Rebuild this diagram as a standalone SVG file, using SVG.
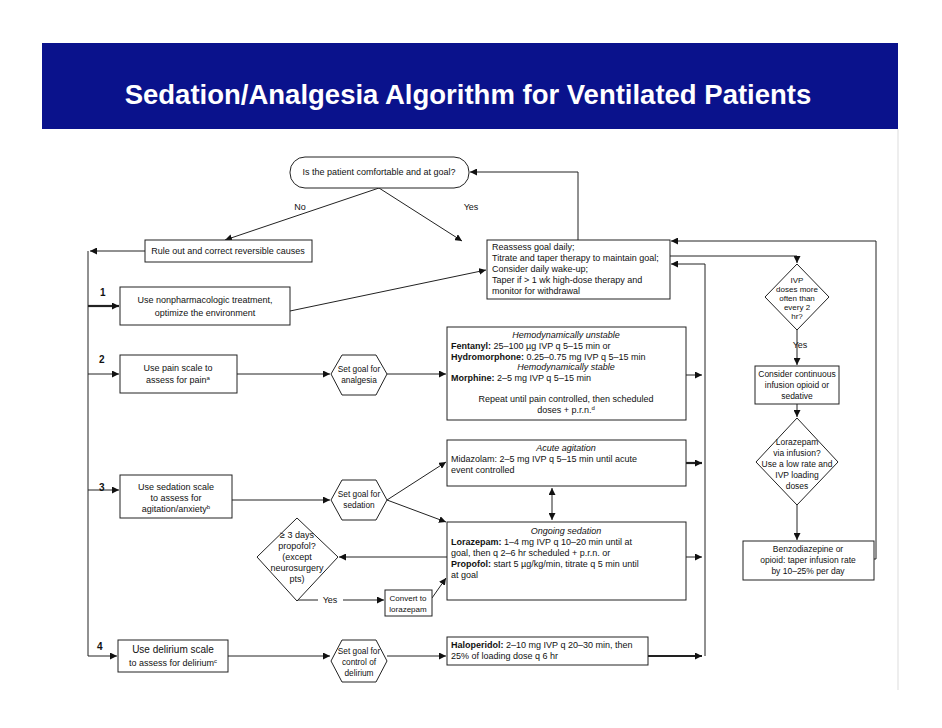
<svg xmlns="http://www.w3.org/2000/svg" width="942" height="728" viewBox="0 0 942 728">
<style>
text{font-family:"Liberation Sans",Arial,sans-serif;font-size:9px;fill:#111}
.c{text-anchor:middle}
.b{font-weight:bold}
.i{font-style:italic}
.n{fill:#fff;stroke:#222;stroke-width:1}
.l{fill:none;stroke:#222;stroke-width:1}
.t{fill:none;stroke:#222;stroke-width:2.2}
.num{font-weight:bold;font-size:10px}
.h{font-size:8.3px}
</style>
<defs>
<marker id="a" viewBox="0 0 10 10" refX="10" refY="5" markerWidth="7" markerHeight="7" markerUnits="userSpaceOnUse" orient="auto"><path d="M0,0L10,5L0,10z" fill="#111"/></marker>
<marker id="s" viewBox="0 0 10 10" refX="0" refY="5" markerWidth="7" markerHeight="7" markerUnits="userSpaceOnUse" orient="auto"><path d="M10,0L0,5L10,10z" fill="#111"/></marker>
</defs>
<rect width="942" height="728" fill="#fff"/>
<rect x="42" y="43" width="856" height="86" fill="#0a128c"/>
<text x="468" y="104" class="c b" style="font-size:27.5px;fill:#fff">Sedation/Analgesia Algorithm for Ventilated Patients</text>
<line x1="898" y1="129" x2="898" y2="690" stroke="#ddd"/>

<g id="connectors">
<path class="l" d="M379,188L225,240" marker-end="url(#a)"/>
<path class="l" d="M379,188L462,241" marker-end="url(#a)"/>
<text x="300" y="210" class="c">No</text>
<text x="471" y="210" class="c">Yes</text>
<path class="l" d="M578,240V172H470" marker-end="url(#a)"/>
<path class="l" d="M145,251H90" marker-end="url(#a)"/>
<path class="l" d="M88,251V656"/>
<path class="t" d="M88,306H119" marker-end="url(#a)"/>
<path class="l" d="M88,374H119" marker-end="url(#a)"/>
<path class="l" d="M88,490H119" marker-end="url(#a)"/>
<path class="l" d="M88,656H117" marker-end="url(#a)"/>
<path class="l" d="M290,311L486,270" marker-end="url(#a)"/>
<path class="l" d="M237,374H330" marker-end="url(#a)"/>
<path class="l" d="M387,374H446" marker-end="url(#a)"/>
<path class="l" d="M232,500H330" marker-end="url(#a)"/>
<path class="l" d="M387,500L446,462" marker-end="url(#a)"/>
<path class="l" d="M387,500L446,522" marker-end="url(#a)"/>
<path class="l" d="M552,488V520" marker-start="url(#s)" marker-end="url(#a)"/>
<path class="l" d="M447,557H339" marker-end="url(#a)"/>
<path class="l" d="M297,600H318M343,600H384" marker-end="url(#a)"/>
<text x="330" y="603" class="c">Yes</text>
<path class="l" d="M432,598L446,578" marker-end="url(#a)"/>
<path class="l" d="M228,656H330" marker-end="url(#a)"/>
<path class="l" d="M387,656H446" marker-end="url(#a)"/>
<path class="l" d="M686,375H702" marker-end="url(#a)"/>
<path class="t" d="M686,463H702" marker-end="url(#a)"/>
<path class="l" d="M686,557H702" marker-end="url(#a)"/>
<path class="t" d="M648,656H702" marker-end="url(#a)"/>
<path class="l" d="M705,656V264H671" marker-end="url(#a)"/>
<path class="l" d="M670,256H797V263" marker-end="url(#a)"/>
<path class="l" d="M874,559H876V241H671" marker-end="url(#a)"/>
<path class="l" d="M797,330V365" marker-end="url(#a)"/>
<text x="800" y="348" class="c">Yes</text>
<path class="l" d="M797,404V417" marker-end="url(#a)"/>
<path class="l" d="M797,505V540" marker-end="url(#a)"/>
</g>

<g id="n-goal"><rect class="n" x="290" y="157" width="179" height="31" rx="15"/><text x="379" y="175" class="c">Is the patient comfortable and at goal?</text></g>
<g id="n-rule"><rect class="n" x="145" y="240" width="167" height="22"/><text x="228" y="254" class="c">Rule out and correct reversible causes</text></g>
<g id="n-reassess"><rect class="n" x="487" y="240" width="183" height="59"/>
<text x="492" y="250">Reassess goal daily;</text><text x="492" y="261">Titrate and taper therapy to maintain goal;</text><text x="492" y="272">Consider daily wake-up;</text><text x="492" y="283">Taper if &gt; 1 wk high-dose therapy and</text><text x="492" y="294">monitor for withdrawal</text></g>
<g id="n1"><text x="100" y="296" class="num">1</text><rect class="n" x="120" y="287" width="170" height="38"/><text x="205" y="303" class="c">Use nonpharmacologic treatment,</text><text x="205" y="316" class="c">optimize the environment</text></g>
<g id="n2"><text x="99" y="363" class="num">2</text><rect class="n" x="120" y="355" width="117" height="38"/><text x="178" y="371" class="c">Use pain scale to</text><text x="178" y="383" class="c">assess for pain<tspan dy="-3" style="font-size:6px">a</tspan></text></g>
<g id="h2"><path class="n" d="M331,374L342,355H376L387,374L376,395H342Z"/><text x="359" y="372" class="c h">Set goal for</text><text x="359" y="383" class="c h">analgesia</text></g>
<g id="n-analg"><rect class="n" x="447" y="327" width="239" height="93"/>
<text x="566" y="338" class="c i">Hemodynamically unstable</text>
<text x="451" y="349"><tspan class="b">Fentanyl:</tspan> 25–100 µg IVP q 5–15 min or</text>
<text x="451" y="360"><tspan class="b">Hydromorphone:</tspan> 0.25–0.75 mg IVP q 5–15 min</text>
<text x="566" y="370" class="c i">Hemodynamically stable</text>
<text x="451" y="381"><tspan class="b">Morphine:</tspan> 2–5 mg IVP q 5–15 min</text>
<text x="566" y="402" class="c">Repeat until pain controlled, then scheduled</text>
<text x="566" y="413" class="c">doses + p.r.n.<tspan dy="-3" style="font-size:6px">d</tspan></text></g>
<g id="n3"><text x="99" y="491" class="num">3</text><rect class="n" x="120" y="475" width="112" height="43"/><text x="176" y="490" class="c">Use sedation scale</text><text x="176" y="501" class="c">to assess for</text><text x="176" y="512" class="c">agitation/anxiety<tspan dy="-3" style="font-size:6px">b</tspan></text></g>
<g id="h3"><path class="n" d="M331,500L342,480H376L387,500L376,520H342Z"/><text x="359" y="497" class="c h">Set goal for</text><text x="359" y="508" class="c h">sedation</text></g>
<g id="n-acute"><rect class="n" x="447" y="440" width="239" height="46"/><text x="566" y="451" class="c i">Acute agitation</text><text x="451" y="462">Midazolam: 2–5 mg IVP q 5–15 min until acute</text><text x="451" y="473">event controlled</text></g>
<g id="n-ongoing"><rect class="n" x="447" y="522" width="239" height="78"/><text x="566" y="534" class="c i">Ongoing sedation</text>
<text x="451" y="545"><tspan class="b">Lorazepam:</tspan> 1–4 mg IVP q 10–20 min until at</text>
<text x="451" y="556">goal, then q 2–6 hr scheduled + p.r.n. or</text>
<text x="451" y="567"><tspan class="b">Propofol:</tspan> start 5 µg/kg/min, titrate q 5 min until</text>
<text x="451" y="578">at goal</text></g>
<g id="d-propofol"><path class="n" d="M297,518L338,557L297,601L257,557Z"/><text x="297" y="538" class="c">≥ 3 days</text><text x="297" y="549" class="c">propofol?</text><text x="297" y="560" class="c">(except</text><text x="297" y="571" class="c">neurosurgery</text><text x="297" y="582" class="c">pts)</text></g>
<g id="n-convert"><rect class="n" x="385" y="590" width="47" height="26"/><text x="408" y="601" class="c" style="font-size:8px">Convert to</text><text x="408" y="612" class="c" style="font-size:8px">lorazepam</text></g>
<g id="n4"><text x="97" y="650" class="num">4</text><rect class="n" x="118" y="640" width="110" height="32"/><text x="173" y="653" class="c" style="font-size:10px">Use delirium scale</text><text x="173" y="666" class="c">to assess for delirium<tspan dy="-3" style="font-size:6px">c</tspan></text></g>
<g id="h4"><path class="n" d="M331,661L342,640H376L387,661L376,682H342Z"/><text x="359" y="654" class="c h">Set goal for</text><text x="359" y="665" class="c h">control of</text><text x="359" y="676" class="c h">delirium</text></g>
<g id="n-halo"><rect class="n" x="447" y="637" width="201" height="28"/><text x="451" y="648"><tspan class="b">Haloperidol:</tspan> 2–10 mg IVP q 20–30 min, then</text><text x="451" y="659">25% of loading dose q 6 hr</text></g>
<g id="d-ivp"><path class="n" d="M797,264L829,297L797,330L765,297Z"/><text x="797" y="283" class="c" style="font-size:8px">IVP</text><text x="797" y="292" class="c" style="font-size:8px">doses more</text><text x="797" y="301" class="c" style="font-size:8px">often than</text><text x="797" y="310" class="c" style="font-size:8px">every 2</text><text x="797" y="319" class="c" style="font-size:8px">hr?</text></g>
<g id="n-cont"><rect class="n" x="755" y="366" width="84" height="38"/><text x="797" y="377" class="c" style="font-size:8.5px">Consider continuous</text><text x="797" y="388" class="c" style="font-size:8.5px">infusion opioid or</text><text x="797" y="399" class="c" style="font-size:8.5px">sedative</text></g>
<g id="d-loraz"><path class="n" d="M797,418L838,462L797,505L756,462Z"/><text x="797" y="445" class="c" style="font-size:8.5px">Lorazepam</text><text x="797" y="456" class="c" style="font-size:8.5px">via infusion?</text><text x="797" y="467" class="c" style="font-size:8.5px">Use a low rate and</text><text x="797" y="478" class="c" style="font-size:8.5px">IVP loading</text><text x="797" y="489" class="c" style="font-size:8.5px">doses</text></g>
<g id="n-taper"><rect class="n" x="743" y="541" width="131" height="39"/><text x="808" y="552" class="c" style="font-size:8.5px">Benzodiazepine or</text><text x="808" y="563" class="c" style="font-size:8.5px">opioid: taper infusion rate</text><text x="808" y="574" class="c" style="font-size:8.5px">by 10–25% per day</text></g>
</svg>
